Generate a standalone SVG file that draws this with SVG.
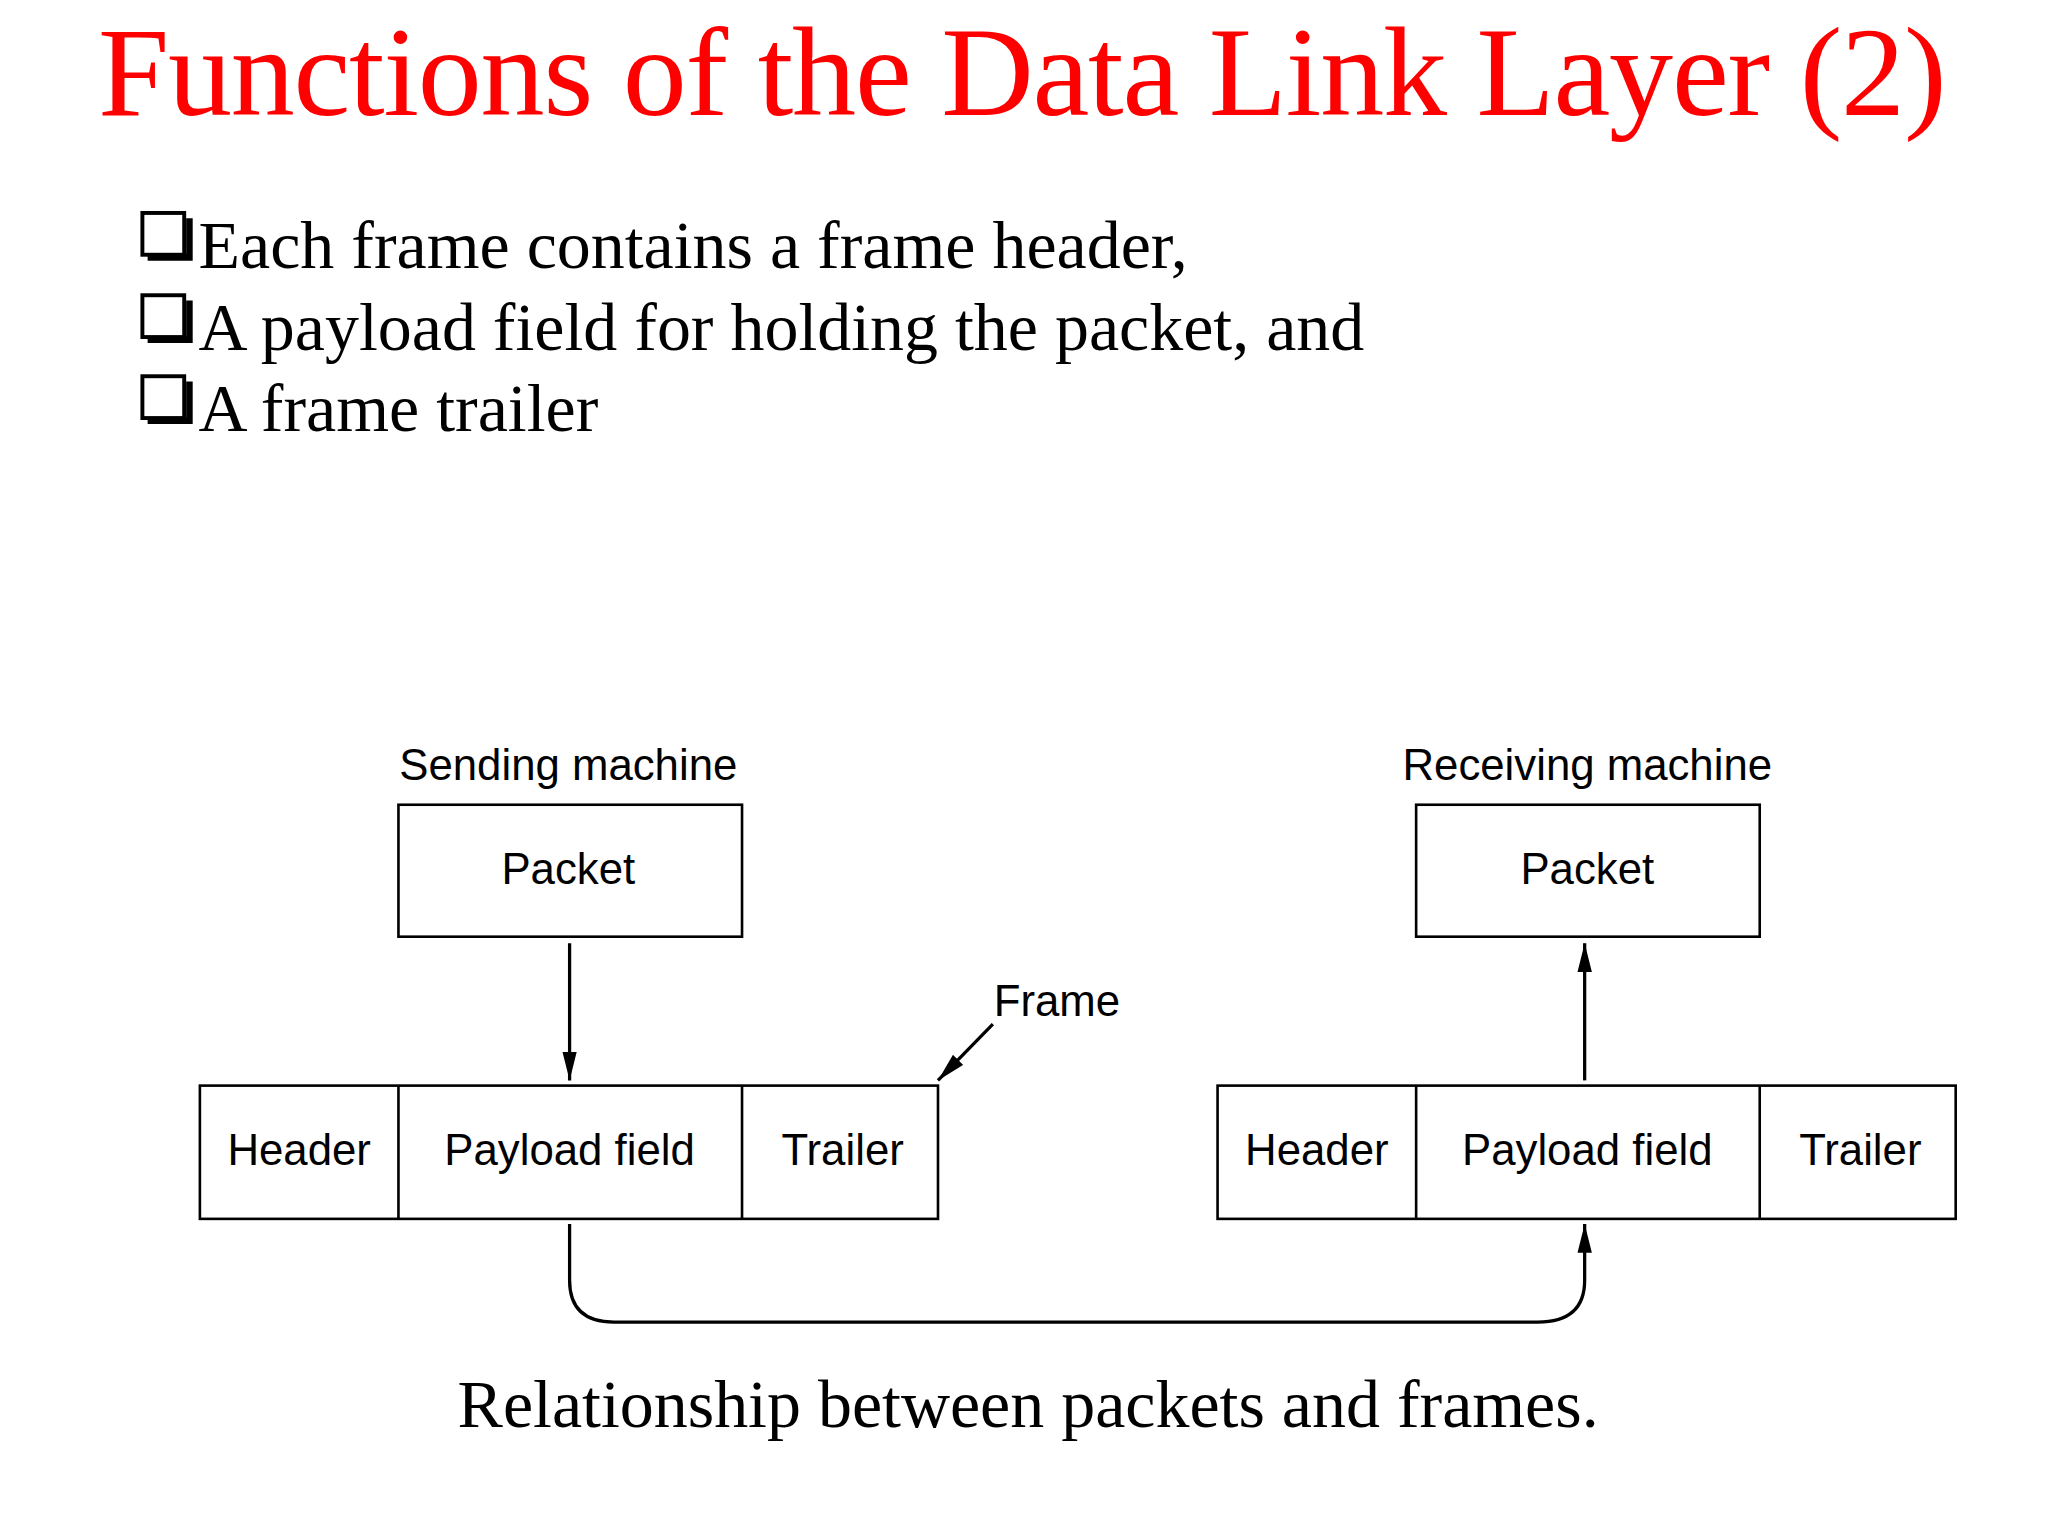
<svg xmlns="http://www.w3.org/2000/svg" width="2048" height="1536" viewBox="0 0 2048 1536">
<defs>
<style>
.s{font-family:"Liberation Serif",serif}
.a{font-family:"Liberation Sans",Arial,sans-serif;font-size:33.5px;text-anchor:middle}
.b{fill:#fff;stroke:#000;stroke-width:2}
.l{fill:none;stroke:#000;stroke-width:2.5}
</style>
<marker id="ar" viewBox="0 0 20 10" refX="20" refY="5" markerWidth="22" markerHeight="11" markerUnits="userSpaceOnUse" orient="auto"><path d="M0,0L20,5L0,10z" fill="#000"/></marker>
<g id="cb"><rect x="2" y="2" width="32" height="32" fill="none" stroke="#000" stroke-width="3"/><path d="M6,36H38V6" fill="none" stroke="#000" stroke-width="5"/></g>
</defs>
<rect width="2048" height="1536" fill="#fff"/>
<g transform="scale(1.3064)">
<g id="title"><text class="s" x="75" y="88" font-size="98" fill="#f00" textLength="1415">Functions of the Data Link Layer (2)</text></g>
<g id="bullets" class="s" font-size="52">
<use href="#cb" x="107" y="161"/><text x="152" y="205">Each frame contains a frame header,</text>
<use href="#cb" x="107" y="224"/><text x="152" y="268">A payload field for holding the packet, and</text>
<use href="#cb" x="107" y="286"/><text x="152" y="330">A frame trailer</text>
</g>
<g id="send">
<text class="a" x="435" y="597">Sending machine</text>
<rect class="b" x="305" y="616" width="263" height="101"/><text class="a" x="435" y="677">Packet</text>
</g>
<g id="recv">
<text class="a" x="1215" y="597">Receiving machine</text>
<rect class="b" x="1084" y="616" width="263" height="101"/><text class="a" x="1215" y="677">Packet</text>
</g>
<g id="frame1">
<rect class="b" x="153" y="831" width="565" height="102"/>
<path d="M305,831V933M568,831V933" stroke="#000" stroke-width="2"/>
<text class="a" x="229" y="892">Header</text><text class="a" x="436" y="892">Payload field</text><text class="a" x="645" y="892">Trailer</text>
</g>
<g id="frame2">
<rect class="b" x="932" y="831" width="565" height="102"/>
<path d="M1084,831V933M1347,831V933" stroke="#000" stroke-width="2"/>
<text class="a" x="1008" y="892">Header</text><text class="a" x="1215" y="892">Payload field</text><text class="a" x="1424" y="892">Trailer</text>
</g>
<g id="frameLabel"><text class="a" x="809" y="778">Frame</text></g>
<g id="connectors">
<line class="l" x1="436" y1="722" x2="436" y2="827" marker-end="url(#ar)"/>
<line class="l" x1="1213" y1="827" x2="1213" y2="722" marker-end="url(#ar)"/>
<line class="l" x1="760" y1="784" x2="718" y2="827" marker-end="url(#ar)"/>
<path class="l" d="M436,937V980Q436,1012 470,1012H1177Q1213,1012 1213,980V937" marker-end="url(#ar)"/>
</g>
<g id="caption"><text class="s" x="787" y="1092" font-size="52" text-anchor="middle">Relationship between packets and frames.</text></g>
</g>
</svg>
